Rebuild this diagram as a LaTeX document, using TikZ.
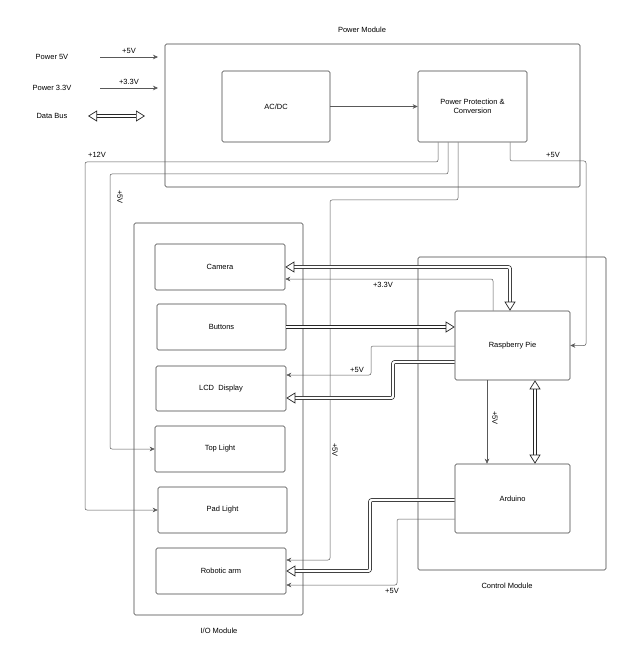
\documentclass[tikz,border=0pt]{standalone}
\usepackage{tikz}
\usetikzlibrary{arrows.meta}
\usepackage{xcolor}
\usepackage{fontspec}
\setsansfont{Liberation Sans}

\begin{document}
\begin{tikzpicture}[x=1pt, y=-1pt, font=\sffamily\fontsize{7.5}{9}\selectfont, line width=0.6pt,
    box/.style={draw=black!75, rounded corners=1.5pt, align=center},
    pwr/.style={draw=black!65, line width=0.5pt, rounded corners=2pt, -{Stealth[length=5pt,width=4.5pt]}},
    bus/.style={draw=black!85, double=white, double distance=2.4pt, line width=0.7pt, rounded corners=2pt},
    bustip/.style={bus, -{Triangle[open,length=9pt,width=11pt]}},
    bustips/.style={bus, {Triangle[open,length=9pt,width=11pt]}-{Triangle[open,length=9pt,width=11pt]}}]
      \useasboundingbox (0,0) rectangle (624,668);

      % modules
      \node[box, minimum width=415, minimum height=143] (pm)  at (372.5,115.5) {};
      \node at (362,30) {Power Module};
      \node[box, minimum width=169, minimum height=392] (io)  at (218.5,419) {};
      \node at (219,631) {I/O Module};
      \node[box, minimum width=188, minimum height=313] (cm)  at (512,413.5) {};
      \node at (507,586) {Control Module};

      % blocks
      \node[box, minimum width=108, minimum height=71] (acdc) at (276,106.5) {AC/DC};
      \node[box, minimum width=109, minimum height=71] (ppc)  at (472.5,106.5) {Power Protection \&\\Conversion};
      \node[box, minimum width=130, minimum height=46] (cam)  at (220,267) {Camera};
      \node[box, minimum width=129, minimum height=46] (btn)  at (221.5,327) {Buttons};
      \node[box, minimum width=130, minimum height=45] (lcd)  at (221,388.5) {LCD\ \ Display};
      \node[box, minimum width=130, minimum height=46] (top)  at (220,449) {Top Light};
      \node[box, minimum width=129, minimum height=46] (pad)  at (222.5,510) {Pad Light};
      \node[box, minimum width=130, minimum height=46] (arm)  at (221,571) {Robotic arm};
      \node[box, minimum width=115, minimum height=69] (rpi)  at (512.5,345.5) {Raspberry Pie};
      \node[box, minimum width=115, minimum height=69] (ard)  at (512.5,498.5) {Arduino};

      % legend
      \node (l5)  at (52,57)  {Power 5V};
      \node (l33) at (52,88)  {Power 3.3V};
      \node (ldb) at (52,116) {Data Bus};
      \coordinate (a5) at (100,57);   \coordinate (b5) at (158,57);
      \coordinate (a33) at (100,88);  \coordinate (b33) at (158,88);
      \coordinate (adb) at (88,116);  \coordinate (bdb) at (145,116);
      \draw[pwr] (a5) -- node[above] {+5V} (b5);
      \draw[pwr] (a33) -- node[above] {+3.3V} (b33);
      \draw[bustips] (adb) -- (bdb);

      % power lines
      \draw[pwr] (acdc) -- (ppc);
      \draw[pwr] (ppc.south -| 438,0) |- (85,162) |- (pad.west |- 0,510);
      \node at (97,155) {+12V};
      \draw[pwr] (ppc.south -| 448,0) |- (110,174) |- (top.west);
      \node[rotate=-90] at (120,197) {+5V};
      \draw[pwr] (ppc.south -| 458,0) |- (330,200) |- (arm.east |- 0,560);
      \node[rotate=-90] at (335,450) {+5V};
      \draw[pwr] (ppc.south -| 510,0) |- (586,161) |- (rpi.east);
      \node at (553,155) {+5V};
      \draw[pwr] (rpi.north -| 493,0) |- (cam.east |- 0,279);
      \node at (383,285) {+3.3V};
      \draw[pwr] (rpi.west |- 0,346) -| (371,375) -- (lcd.east |- 0,375);
      \node at (357,370) {+5V};
      \draw[pwr] (rpi.south -| 487,0) -- (ard.north -| 487,0);
      \node[rotate=-90] at (495,418) {+5V};
      \draw[pwr] (ard.west |- 0,519) -| (397,585) -- (arm.east |- 0,585);
      \node at (392,591) {+5V};

      % data buses
      \draw[bustips] (cam.east) -| (rpi.north -| 510,0);
      \draw[bustip] (btn.east) -- (rpi.west |- btn.east);
      \draw[bustip] (rpi.west |- 0,362) -| (393,398) -- (lcd.east |- 0,398);
      \draw[bustips] (rpi.south -| 535,0) -- (ard.north -| 535,0);
      \draw[bustip] (ard.west |- 0,500) -| (370,571) -- (arm.east);
    \end{tikzpicture}
\end{document}
